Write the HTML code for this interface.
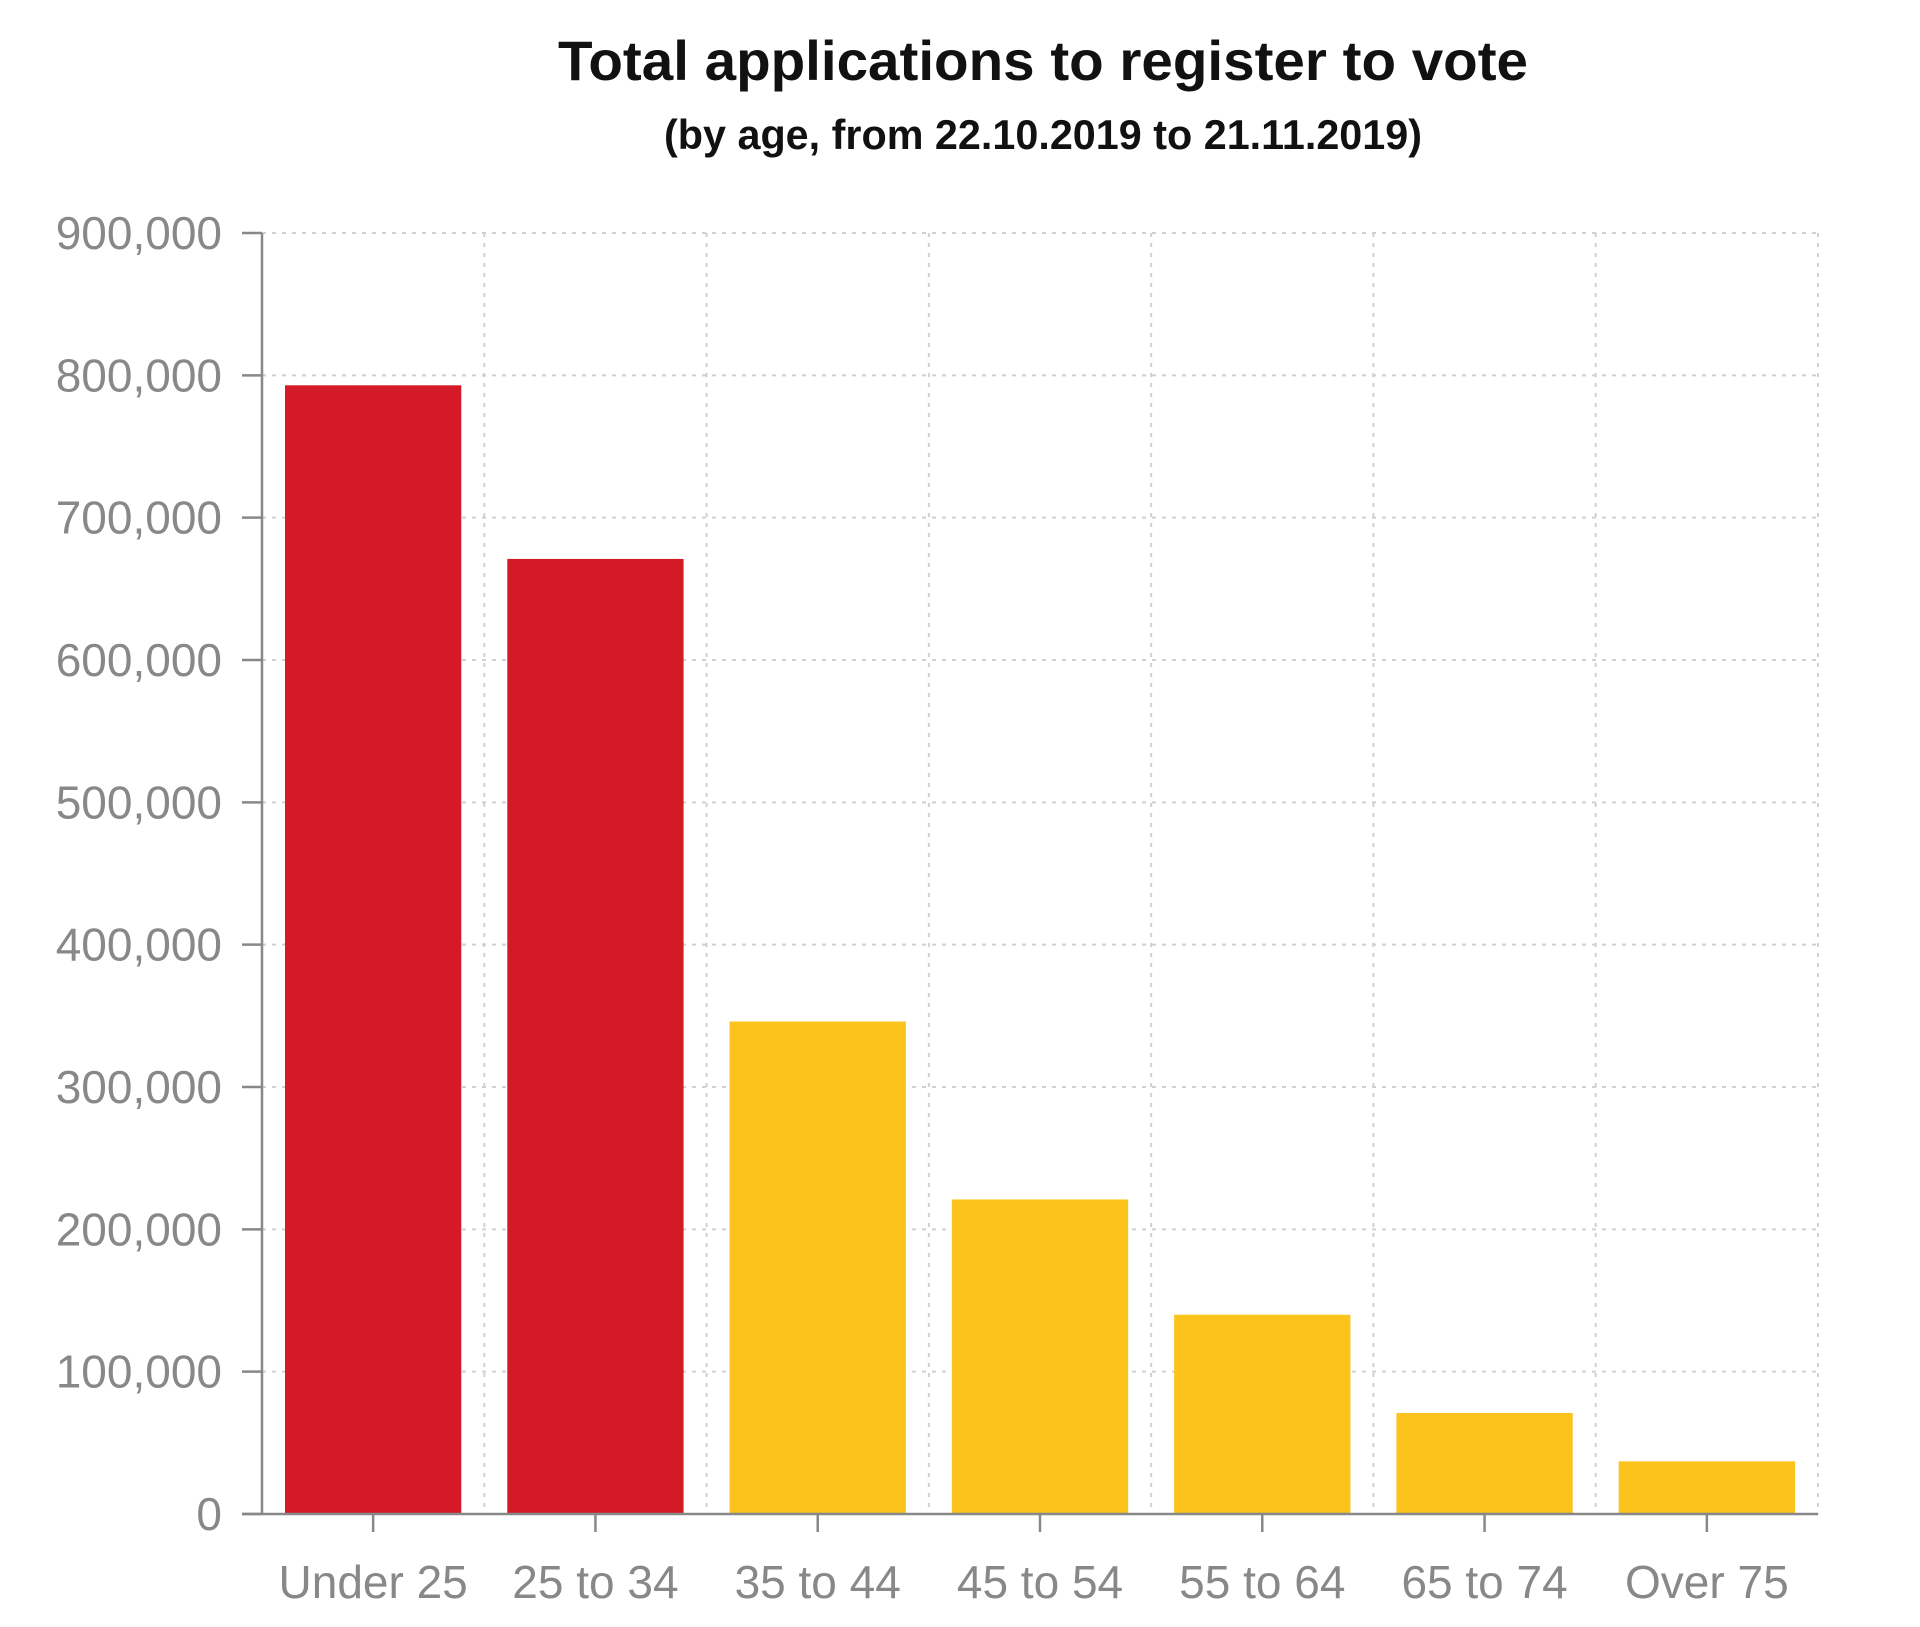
<!DOCTYPE html>
<html><head><meta charset="utf-8"><style>
html,body{margin:0;padding:0;background:#fff;}
svg{display:block;}
</style></head><body>
<svg id="chart" width="1920" height="1627" xmlns="http://www.w3.org/2000/svg">
<text x="1043" y="80" text-anchor="middle" font-family="Liberation Sans, sans-serif" font-weight="bold" font-size="56" fill="#111" textLength="970" lengthAdjust="spacingAndGlyphs">Total applications to register to vote</text>
<text x="1043" y="149" text-anchor="middle" font-family="Liberation Sans, sans-serif" font-weight="bold" font-size="42" fill="#111" textLength="758" lengthAdjust="spacingAndGlyphs">(by age, from 22.10.2019 to 21.11.2019)</text>
<g id="grid"></g><g id="bars"></g><g id="axes"></g>
</svg>
<script>
const categories = ["Under 25","25 to 34","35 to 44","45 to 54","55 to 64","65 to 74","Over 75"];
const values = [793000, 671000, 346000, 221000, 140000, 71000, 37000];
const colors = ["#d31a26","#d31a26","#fbc31b","#fbc31b","#fbc31b","#fbc31b","#fbc31b"];
const yTicks = [0,100000,200000,300000,400000,500000,600000,700000,800000,900000];
const yTickLabels = ["0","100,000","200,000","300,000","400,000","500,000","600,000","700,000","800,000","900,000"];

const NS="http://www.w3.org/2000/svg";
const x0=262, x1=1818, yZero=1514, yTop=233, yMax=900000;
const band=(x1-x0)/categories.length, pad=23;
const y=v=>yZero-(v/yMax)*(yZero-yTop);
const xb=i=>x0+i*band;
function mk(tag,attrs,parent){const e=document.createElementNS(NS,tag);for(const k in attrs)e.setAttribute(k,attrs[k]);parent.appendChild(e);return e;}
const grid=document.getElementById('grid'),bars=document.getElementById('bars'),axes=document.getElementById('axes');
yTicks.forEach((t,i)=>{
  if(t>0){const g=mk('line',{x1:x0,x2:x1,y1:y(t),y2:y(t),stroke:'#d0d0d0','stroke-width':2,'stroke-dasharray':'4 6'},grid);
  
  }
  const tk=mk('line',{x1:x0-20,x2:x0,y1:y(t),y2:y(t),stroke:'#888','stroke-width':2.5},axes);
  
  
  const lb=mk('text',{x:222,y:y(t)+16,'text-anchor':'end','font-family':'Liberation Sans, sans-serif','font-size':46,fill:'#888'},axes);
  lb.textContent=yTickLabels[i];
  
  
});
for(let i=1;i<=categories.length;i++){
  const g=mk('line',{x1:xb(i),x2:xb(i),y1:yTop,y2:yZero,stroke:'#d0d0d0','stroke-width':2,'stroke-dasharray':'4 6'},grid);
  
  
}
categories.forEach((c,i)=>{
  const r=mk('rect',{x:xb(i)+pad,y:y(values[i]),width:band-2*pad,height:yZero-y(values[i]),fill:colors[i]},bars);
  
  
  const cx=xb(i)+band/2;
  const tk=mk('line',{x1:cx,x2:cx,y1:yZero,y2:yZero+18,stroke:'#888','stroke-width':2.5},axes);
  
  
  const lb=mk('text',{x:cx,y:1598,'text-anchor':'middle','font-family':'Liberation Sans, sans-serif','font-size':46,fill:'#888'},axes);
  lb.textContent=c;
  
  
});
const ya=mk('line',{x1:x0,x2:x0,y1:yTop,y2:yZero,stroke:'#888','stroke-width':2.5},axes);


const xa=mk('line',{x1:x0-20,x2:x1,y1:yZero,y2:yZero,stroke:'#888','stroke-width':2.5},axes);


</script>
</body></html>
